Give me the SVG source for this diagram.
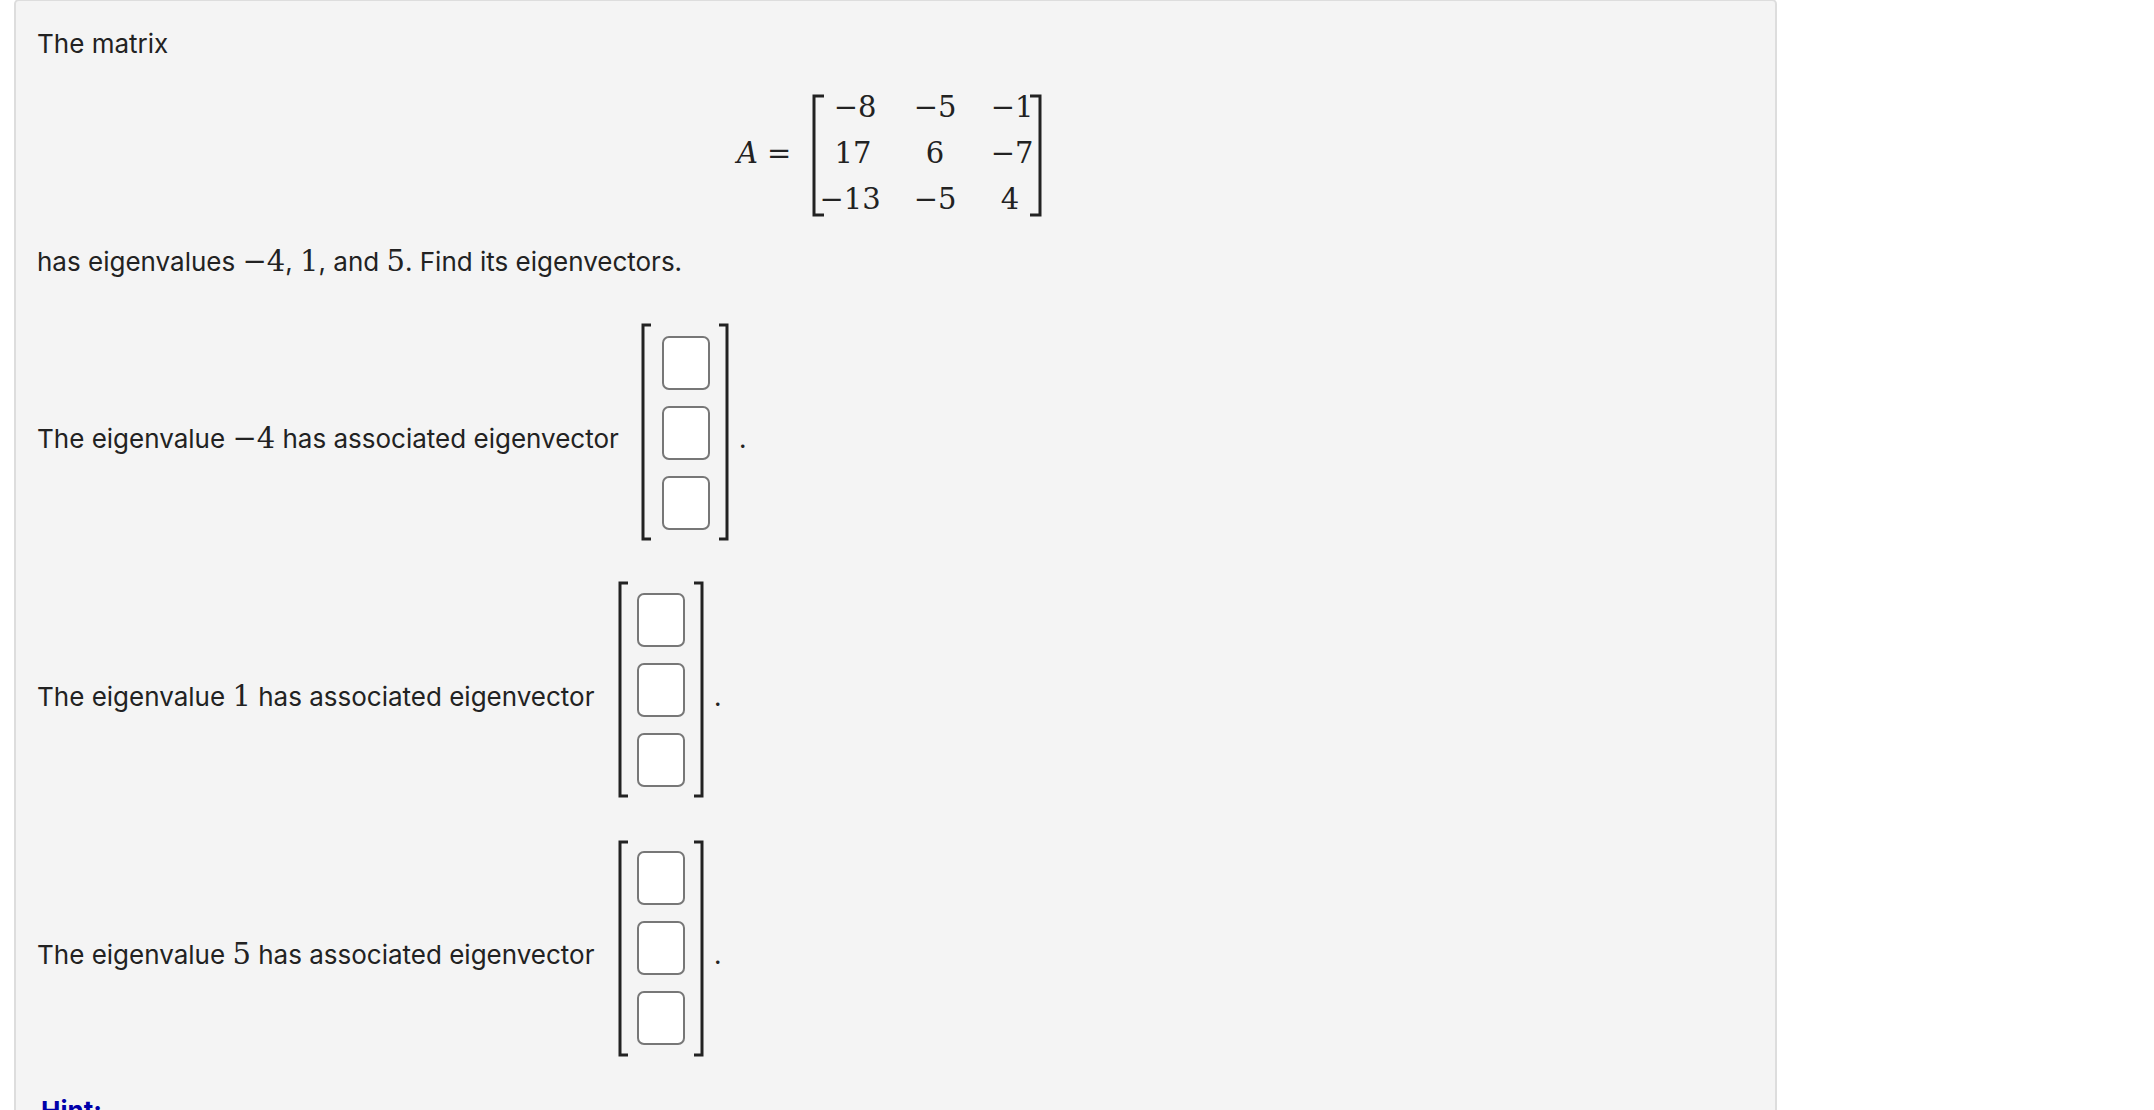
<svg xmlns="http://www.w3.org/2000/svg" width="2154" height="1110" viewBox="0 0 2154 1110">
<style>
.t{font-family:Inter,"Noto Sans",sans-serif;font-size:26px;fill:#222}
.m{font-family:"DejaVu Serif","Liberation Serif",serif;font-size:29px;fill:#222}
.br{fill:none;stroke:#222;stroke-width:3}
.bx{fill:#fff;stroke:#777;stroke-width:2}
</style>
<rect width="2154" height="1110" fill="#fff"/>
<rect x="15" y="0" width="1761" height="1130" rx="4" fill="#f4f4f4" stroke="#ddd" stroke-width="2"/>
<g id="intro">
<text class="t" x="37" y="53">The matrix</text>
</g>
<g id="matrix">
<text class="m" x="737" y="163" font-style="italic">A</text>
<text class="m" x="767" y="163">=</text>
<path class="br" d="M824,96 H814 V215 H824 M1030,96 H1040 V215 H1030"/>
<g text-anchor="middle">
<text class="m" x="855" y="117">−8</text><text class="m" x="935" y="117">−5</text><text class="m" x="1012" y="117">−1</text>
<text class="m" x="853" y="163">17</text><text class="m" x="935" y="163">6</text><text class="m" x="1012" y="163">−7</text>
<text class="m" x="850" y="209">−13</text><text class="m" x="935" y="209">−5</text><text class="m" x="1010" y="209">4</text>
</g>
</g>
<g id="eigvals">
<text class="t" x="37" y="271">has eigenvalues <tspan class="m">−4</tspan>, <tspan class="m">1</tspan>, and <tspan class="m">5</tspan>. Find its eigenvectors.</text>
</g>
<g id="vec1">
<text class="t" x="37" y="448">The eigenvalue <tspan class="m">−4</tspan> has associated eigenvector</text>
<path class="br" d="M651,325 H643 V539 H651 M719,325 H727 V539 H719"/>
<rect class="bx" x="663" y="337" width="46" height="52" rx="6"/>
<rect class="bx" x="663" y="407" width="46" height="52" rx="6"/>
<rect class="bx" x="663" y="477" width="46" height="52" rx="6"/>
<text class="t" x="739" y="448">.</text>
</g>
<g id="vec2">
<text class="t" x="37" y="706">The eigenvalue <tspan class="m">1</tspan> has associated eigenvector</text>
<path class="br" d="M628,583 H620 V796 H628 M694,583 H702 V796 H694"/>
<rect class="bx" x="638" y="594" width="46" height="52" rx="6"/>
<rect class="bx" x="638" y="664" width="46" height="52" rx="6"/>
<rect class="bx" x="638" y="734" width="46" height="52" rx="6"/>
<text class="t" x="714" y="706">.</text>
</g>
<g id="vec3">
<text class="t" x="37" y="964">The eigenvalue <tspan class="m">5</tspan> has associated eigenvector</text>
<path class="br" d="M628,842 H620 V1055 H628 M694,842 H702 V1055 H694"/>
<rect class="bx" x="638" y="852" width="46" height="52" rx="6"/>
<rect class="bx" x="638" y="922" width="46" height="52" rx="6"/>
<rect class="bx" x="638" y="992" width="46" height="52" rx="6"/>
<text class="t" x="714" y="964">.</text>
</g>
<g id="hint">
<text class="t" x="41" y="1120" font-weight="bold" fill="#0000aa" style="fill:#0000aa">Hint:</text>
</g>
<g id="connectors"/>
</svg>
